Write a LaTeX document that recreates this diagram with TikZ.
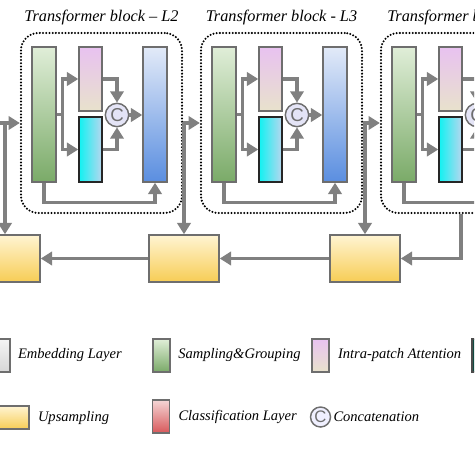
\documentclass[tikz,border=0pt]{standalone}
\usepackage{fontspec}
\setmainfont{Liberation Serif}
\setsansfont{Liberation Sans}
\usepackage{xcolor}
\usepackage{tikz}
\usetikzlibrary{arrows.meta,positioning}

\definecolor{arrgrey}{HTML}{808080}
\definecolor{edgegrey}{HTML}{6E6E6E}
\definecolor{grtop}{HTML}{E0EED8}
\definecolor{grbot}{HTML}{7AAA68}
\definecolor{pktop}{HTML}{E8C2F0}
\definecolor{pkbot}{HTML}{E8E2CC}
\definecolor{cyl}{HTML}{10F2F2}
\definecolor{cyr}{HTML}{B8D6EE}
\definecolor{bltop}{HTML}{E2EAF8}
\definecolor{blbot}{HTML}{5A8EE0}
\definecolor{yltop}{HTML}{FFF4D2}
\definecolor{ylbot}{HTML}{F7CD55}
\definecolor{cattop}{HTML}{E4E4F6}
\definecolor{rdtop}{HTML}{F4D6D6}
\definecolor{rdbot}{HTML}{D8585A}
\definecolor{dkteal}{HTML}{0E4A40}

\tikzset{
  bar/.style={draw=edgegrey, line width=1.1pt, inner sep=0pt, minimum width=18pt, minimum height=101.25pt},
  sampling/.style={bar, top color=grtop, bottom color=grbot},
  outbar/.style={bar, top color=bltop, bottom color=blbot},
  intra/.style={bar, minimum width=17.25pt, minimum height=48pt, top color=pktop, bottom color=pkbot},
  inter/.style={bar, draw=black!85, minimum width=17.25pt, minimum height=48.75pt, left color=cyl, right color=cyr},
  concat/.style={circle, draw=edgegrey, line width=1.1pt, fill=cattop, inner sep=0pt, minimum size=17.5pt,
    text=edgegrey, font=\sffamily\fontsize{14}{14}\selectfont},
  upsamp/.style={draw=edgegrey, line width=1.1pt, inner sep=0pt, minimum width=52.5pt, minimum height=35.25pt,
    top color=yltop, bottom color=ylbot},
  blockbox/.style={draw=black, line width=1.7pt, dash pattern=on 0pt off 2.4pt, line cap=round,
    rounded corners=13pt, minimum width=120.75pt, minimum height=135pt, inner sep=0pt},
  title/.style={font=\itshape\fontsize{12.2}{14}\selectfont, inner sep=0pt},
  arr/.style={draw=arrgrey, line width=2.4pt, -{Triangle[width=10pt,length=8.5pt]}},
  legbox/.style={draw=edgegrey, line width=1.1pt, inner sep=0pt, minimum width=12.75pt, minimum height=24.75pt},
  legtext/.style={font=\itshape\fontsize{10.9}{12}\selectfont, inner sep=0pt, anchor=west}
}

\begin{document}
\begin{tikzpicture}[x=0.75pt,y=0.75pt,yscale=-1,xscale=1]
        \useasboundingbox (0,0) rectangle (474,474);
        \clip (0,0) rectangle (474,474);

        % Transformer block - L2
        \node[blockbox] (tb1) at (101.5,123) {};
        \node[title] (hd1) at (101.5,18) {Transformer block -- L2};
        \node[sampling] (sg1) at (44,114.5) {};
        \node[intra] (ia1) at (90.5,79) {};
        \node[inter] (xa1) at (90.5,149.5) {};
        \node[concat] (cc1) at (117,115) {C};
        \node[outbar] (ff1) at (155,114.5) {};
        \draw[arr] (sg1.east) -- ++(6,0) |- (ia1.west);
        \draw[arr] (sg1.east) -- ++(6,0) |- (xa1.west);
        \draw[arr] (ia1.east) -| (cc1.north);
        \draw[arr] (xa1.east) -| (cc1.south);
        \draw[arr] (cc1.east) -- (ff1.west |- cc1.east);
        \draw[arr] (sg1.south) -- ++(0,20) -| (ff1.south);

        % Transformer block - L3
        \node[blockbox] (tb2) at (281.5,123) {};
        \node[title] (hd2) at (281.5,18) {Transformer block - L3};
        \node[sampling] (sg2) at (224,114.5) {};
        \node[intra] (ia2) at (270.5,79) {};
        \node[inter] (xa2) at (270.5,149.5) {};
        \node[concat] (cc2) at (297,115) {C};
        \node[outbar] (ff2) at (335,114.5) {};
        \draw[arr] (sg2.east) -- ++(6,0) |- (ia2.west);
        \draw[arr] (sg2.east) -- ++(6,0) |- (xa2.west);
        \draw[arr] (ia2.east) -| (cc2.north);
        \draw[arr] (xa2.east) -| (cc2.south);
        \draw[arr] (cc2.east) -- (ff2.west |- cc2.east);
        \draw[arr] (sg2.south) -- ++(0,20) -| (ff2.south);

        % Transformer block (cut at the right edge)
        \node[blockbox] (tb3) at (461.5,123) {};
        \node[title, anchor=west] (hd3) at (387,18) {Transformer block};
        \node[sampling] (sg3) at (404,114.5) {};
        \node[intra] (ia3) at (450.5,79) {};
        \node[inter] (xa3) at (450.5,149.5) {};
        \node[concat] (cc3) at (477,115) {C};
        \node[outbar] (ff3) at (515,114.5) {};
        \draw[arr] (sg3.east) -- ++(6,0) |- (ia3.west);
        \draw[arr] (sg3.east) -- ++(6,0) |- (xa3.west);
        \draw[arr] (ia3.east) -| (cc3.north);
        \draw[arr] (xa3.east) -| (cc3.south);
        \draw[arr] (cc3.east) -- (ff3.west |- cc3.east);
        \draw[arr] (sg3.south) -- ++(0,20) -| (ff3.south);

        % Upsampling path
        \node[upsamp] (up1) at (5,258.5) {};
        \node[upsamp] (up2) at (184,258.5) {};
        \node[upsamp] (up3) at (365,258.5) {};
        \coordinate (in1) at (0,123);
        \coordinate (out3) at (461,214);
        \draw[arr] (in1) -- (tb1.west);
        \draw[arr] (tb1.east) -- (tb2.west);
        \draw[arr] (tb2.east) -- (tb3.west);
        \draw[arr] (up1.north |- tb1.west) -- (up1.north);
        \draw[arr] (up2.north |- tb1.east) -- (up2.north);
        \draw[arr] (up3.north |- tb2.east) -- (up3.north);
        \draw[arr] (out3) |- (up3.east);
        \draw[arr] (up3.west) -- (up2.east);
        \draw[arr] (up2.west) -- (up1.east);

        % Legend
        \node[legbox, top color=white!96!black, bottom color=white!84!black] (lg1) at (1.5,355.5) {};
        \node[legtext, right=5.25pt of lg1] (lt1) {Embedding Layer};
        \node[legbox, top color=grtop, bottom color=grbot] (lg2) at (161.5,355.5) {};
        \node[legtext, right=5.5pt of lg2] (lt2) {Sampling\&Grouping};
        \node[legbox, top color=pktop, bottom color=pkbot] (lg3) at (320.5,355.5) {};
        \node[legtext, right=6pt of lg3] (lt3) {Intra-patch Attention};
        \node[legbox, draw=black!70, fill=dkteal] (lg4) at (480.5,355.5) {};
        \node[legbox, minimum width=30pt, minimum height=17.25pt, top color=yltop, bottom color=ylbot] (lg5) at (9,417.5) {};
        \node[legtext, right=6pt of lg5] (lt5) {Upsampling};
        \node[legbox, top color=rdtop, bottom color=rdbot] (lg6) at (161,416.5) {};
        \node[legtext, right=6pt of lg6] (lt6) {Classification Layer};
        \node[concat, minimum size=15pt, fill=white!94!blue, font=\sffamily\fontsize{12.5}{12.5}\selectfont] (lg7) at (320.5,417) {C};
        \node[legtext, right=1.5pt of lg7] (lt7) {Concatenation};
\end{tikzpicture}
\end{document}
